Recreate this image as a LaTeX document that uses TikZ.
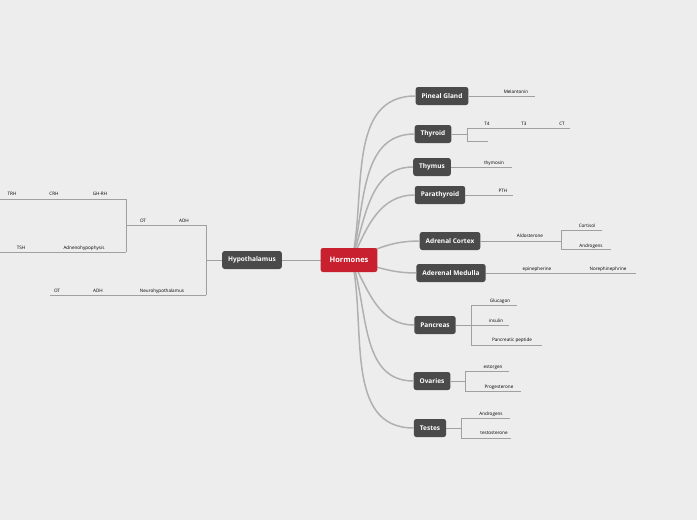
\documentclass[tikz,border=0pt]{standalone}
\usepackage{fontspec}
\setmainfont{Open Sans}
\begin{document}
\begin{tikzpicture}[x=1pt,y=-1pt,
  org/.style={fill=boxgray,text=white,font=\bfseries\fontsize{6.5}{7}\selectfont,rounded corners=2.5pt,minimum height=18pt,inner xsep=6pt},
  lbl/.style={font=\fontsize{4.6}{5}\selectfont,inner sep=0.5pt},
  ln/.style={draw=linegray,line width=0.7pt},
  hub/.style={draw=hubgray,line width=1.5pt}]
\definecolor{bg}{HTML}{EDEDED}
\definecolor{boxgray}{HTML}{4A4A4A}
\definecolor{linegray}{HTML}{A0A0A0}
\definecolor{hubgray}{HTML}{B0B0B0}
\definecolor{red}{HTML}{C8202F}
\fill[bg] (0,0) rectangle (697,520);
\useasboundingbox (0,0) rectangle (697,520);
\coordinate (c) at (352,260);
% branches from hub
\foreach \n/\ang in {pin/80,thy/78,thm/74,par/70,adc/30,adm/-10,pan/-55,ova/-70,tes/-78}{}
\node[org] (pin) at (442,96) {Pineal Gland};
\node[org] (thy) at (433,134) {Thyroid};
\node[org] (thm) at (432,167) {Thymus};
\node[org] (par) at (440,195) {Parathyroid};
\node[org] (adc) at (450,241) {Adrenal Cortex};
\node[org] (adm) at (451,273) {Aderenal Medulla};
\node[org] (pan) at (435,325) {Pancreas};
\node[org] (ova) at (432,381) {Ovaries};
\node[org] (tes) at (430,428) {Testes};
\node[org] (hyp) at (252,260) {Hypothalamus};
\draw[hub] (c) to[out=78,in=180] (pin.west);
\draw[hub] (c) to[out=76,in=180] (thy.west);
\draw[hub] (c) to[out=72,in=180] (thm.west);
\draw[hub] (c) to[out=66,in=180] (par.west);
\draw[hub] (c) to[out=25,in=180] (adc.west);
\draw[hub] (c) to[out=-15,in=180] (adm.west);
\draw[hub] (c) to[out=-62,in=180] (pan.west);
\draw[hub] (c) to[out=-72,in=180] (ova.west);
\draw[hub] (c) to[out=-78,in=180] (tes.west);
\draw[ln] (hyp.east) -- (c);
\node[org,fill=red,minimum height=24pt,inner xsep=9pt,font=\bfseries\fontsize{7.5}{8}\selectfont] (hor) at (349,260) {Hormones};
% Pineal
\draw[ln] (pin.east) -- (535,96);
\node[lbl,anchor=base] (m1) at (516,93) {Melantonin};
% Thyroid
\coordinate (thb) at (467,134);
\draw[ln] (thy.east) -- (thb) (467,128) -- (467,141) (467,128) -- (570,128) (467,141) -- (488,141);
\node[lbl,anchor=base] at (487,125) {T4};
\node[lbl,anchor=base] at (524,125) {T3};
\node[lbl,anchor=base] at (562,125) {CT};
% Thymus
\draw[ln] (thm.east) -- (512,167);
\node[lbl,anchor=base] at (494,164) {thymosin};
% Parathyroid
\draw[ln] (par.east) -- (513,195);
\node[lbl,anchor=base] at (503,192) {PTH};
% Adrenal cortex
\draw[ln] (adc.east) -- (561,241) (561,230) -- (561,249) (561,230) -- (602,230) (561,249) -- (611,249);
\node[lbl,anchor=base] at (530,237) {Aldosterone};
\node[lbl,anchor=base] at (587,227) {Cortisol};
\node[lbl,anchor=base] at (591,247) {Androgens};
% Medulla
\draw[ln] (adm.east) -- (636,273);
\node[lbl,anchor=base] at (537,270) {epinepherine};
\node[lbl,anchor=base] at (608,270) {Norephinephrine};
% Pancreas
\draw[ln] (pan.east) -- (471,325) (471,305) -- (471,345) (471,305) -- (517,305) (471,325) -- (509,325) (471,345) -- (542,345);
\node[lbl,anchor=base] at (500,302) {Glucagon};
\node[lbl,anchor=base] at (496,322) {insulin};
\node[lbl,anchor=base] at (512,341) {Pancreatic peptide};
% Ovaries
\draw[ln] (ova.east) -- (465,381) (465,371) -- (465,391) (465,371) -- (509,371) (465,391) -- (521,391);
\node[lbl,anchor=base] at (493,368) {estorgen};
\node[lbl,anchor=base] at (499,388) {Progesterone};
% Testes
\draw[ln] (tes.east) -- (461,428) (461,418) -- (461,438) (461,418) -- (510,418) (461,438) -- (511,438);
\node[lbl,anchor=base] at (491,415) {Androgens};
\node[lbl,anchor=base] at (494,434) {testosterone};
% Hypothalamus
\draw[ln] (hyp.west) -- (206,260) (206,225) -- (206,295) (206,225) -- (126,225) (206,295) -- (50,295);
\draw[ln] (126,199) -- (126,252) (126,199) -- (0,199) (126,252) -- (0,252);
\node[lbl,anchor=base] at (143,222) {OT};
\node[lbl,anchor=base] at (184,222) {ADH};
\node[lbl,anchor=base] at (12,195) {TRH};
\node[lbl,anchor=base] at (54,195) {CRH};
\node[lbl,anchor=base] at (100,195) {GH-RH};
\node[lbl,anchor=base] at (21,249) {TSH};
\node[lbl,anchor=base] at (84,249) {Adnenohypophysis};
\node[lbl,anchor=base] at (57,292) {OT};
\node[lbl,anchor=base] at (98,292) {ADH};
\node[lbl,anchor=base] at (162,292) {Neurohypothalamus};
\end{tikzpicture}
\end{document}
